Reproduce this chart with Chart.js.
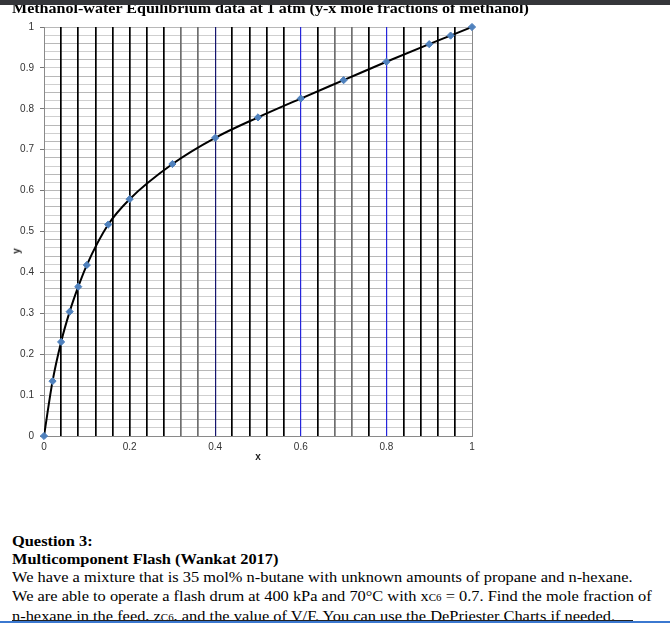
<!DOCTYPE html>
<html>
<head>
<meta charset="utf-8">
<title>Methanol-water VLE</title>
<script src="https://cdn.jsdelivr.net/npm/chart.js"></script>
<style>
  body { margin: 0; background: #fff; width: 670px; height: 623px; overflow: hidden; position: relative;
         font-family: "Liberation Serif", "Times New Roman", serif; color: #000; }
  #topbar { position: absolute; left: 0; top: 0; width: 670px; height: 5px; background: #35363a; z-index: 3; }
  #title { position: absolute; left: 12px; top: 0; font-size: 14.7px; font-weight: bold; white-space: nowrap;
           line-height: 16.3px; transform: scaleX(1.093); transform-origin: left top; z-index: 2; }
  #chartBox { position: absolute; left: 0; top: 0; width: 490px; height: 470px; }
  #ytitle { position: absolute; left: 14px; top: 246px; font: bold 10px "Liberation Sans", Arial, sans-serif;
            color: #222; transform: rotate(-90deg); transform-origin: center; line-height: 10px; }
  #question { position: absolute; left: 12px; top: 531.8px; font-size: 15px; line-height: 18.3px;
              white-space: nowrap; transform: scaleX(1.093); transform-origin: left top; }
  #question sub { font-size: 10px; vertical-align: 0; }
  #underline { position: absolute; left: 12px; top: 620px; width: 621px; height: 1px; background: #222; }
  #bottombar { position: absolute; left: 0; top: 621px; width: 670px; height: 2px; background: #3b78d0; }
</style>
</head>
<body>
<div id="topbar"></div>
<div id="title">Methanol-water Equilibrium data at 1 atm (y-x mole fractions of methanol)</div>
<div id="chartBox"><canvas id="vleChart"></canvas></div>
<div id="ytitle">y</div>
<div id="question">
  <b>Question 3:</b><br>
  <b>Multicomponent Flash (Wankat 2017)</b><br>
  We have a mixture that is 35 mol% n-butane with unknown amounts of propane and n-hexane.<br>
  We are able to operate a flash drum at 400 kPa and 70°C with x<sub>C6</sub> = 0.7. Find the mole fraction of<br>
  n-hexane in the feed, z<sub>C6</sub>, and the value of V/F. You can use the DePriester Charts if needed.
</div>
<div id="underline"></div>
<div id="bottombar"></div>

<script>
// methanol mole fraction in liquid (x) and vapour (y)
const xValues = [0, 0.02, 0.04, 0.06, 0.08, 0.10, 0.15, 0.20, 0.30, 0.40, 0.50, 0.60, 0.70, 0.80, 0.90, 0.95, 1.0];
const yValues = [0, 0.134, 0.230, 0.304, 0.365, 0.418, 0.517, 0.579, 0.665, 0.729, 0.779, 0.825, 0.870, 0.915, 0.958, 0.979, 1.0];

const xTickValues = [0, 0.2, 0.4, 0.6, 0.8, 1];
const xTickLabels = ['0', '0.2', '0.4', '0.6', '0.8', '1'];
const yTickValues = [0, 0.1, 0.2, 0.3, 0.4, 0.5, 0.6, 0.7, 0.8, 0.9, 1];
const yTickLabels = ['0', '0.1', '0.2', '0.3', '0.4', '0.5', '0.6', '0.7', '0.8', '0.9', '1'];

const points = xValues.map((x, i) => ({ x: x, y: yValues[i] }));

function labelFor(values, labels, v) {
    const i = values.findIndex(t => Math.abs(t - v) < 1e-6);
    return i >= 0 ? labels[i] : '';
}

// vertical grid: mostly black, a few look grey or blue on the scan
function xGridColor(ctx) {
    const v = Math.round(ctx.tick.value * 100);
    if (v === 40) return '#15156e';
    if (v === 60 || v === 80) return '#2424dc';
    if (v === 0 || v === 100) return '#8a8a8a';
    if ([32, 36, 68, 72].includes(v)) return '#6e6e6e';
    return '#000';
}
function xGridWidth(ctx) {
    const v = Math.round(ctx.tick.value * 100);
    if (v === 60 || v === 80 || v === 40) return 1.2;
    if (v === 0 || v === 100) return 1;
    return 1.7;
}

const tickFont = { family: '"Liberation Sans", Arial, sans-serif', size: 10 };

const ctx = document.getElementById('vleChart').getContext('2d');
const chart = new Chart(ctx, {
    type: 'scatter',
    data: {
        datasets: [{
            label: 'data',
            data: points,
            showLine: false,
            pointStyle: 'rectRot',
            pointRadius: 3.6,
            backgroundColor: '#4f81bd',
            borderColor: '#4f81bd',
            borderWidth: 1,
            clip: false
        }, {
            label: 'curve',
            data: points,
            showLine: true,
            pointRadius: 0,
            borderColor: '#000',
            borderWidth: 2,
            cubicInterpolationMode: 'monotone'
        }]
    },
    options: {
        responsive: true,
        maintainAspectRatio: false,
        animation: false,
        layout: { padding: { top: 27, right: 18, left: 0, bottom: 0 } },
        plugins: { legend: { display: false }, tooltip: { enabled: false } },
        scales: {
            x: {
                type: 'linear',
                min: 0, max: 1,
                afterFit: s => { s.height = 34; },
                ticks: {
                    stepSize: 0.04,
                    autoSkip: false,
                    maxRotation: 0,
                    padding: 5,
                    color: '#333',
                    font: tickFont,
                    callback: v => labelFor(xTickValues, xTickLabels, v)
                },
                grid: { color: xGridColor, lineWidth: xGridWidth, drawTicks: false, z: -1 },
                border: { color: '#8a8a8a', width: 1 },
                title: { display: true, text: 'x', color: '#222', padding: { top: 0, bottom: 7 },
                         font: { family: '"Liberation Sans", Arial, sans-serif', size: 10, weight: 'bold' } }
            },
            y: {
                type: 'linear',
                min: 0, max: 1,
                afterFit: s => { s.width = 44; },
                ticks: {
                    stepSize: 0.02,
                    autoSkip: false,
                    padding: 6,
                    color: '#333',
                    font: tickFont,
                    callback: v => labelFor(yTickValues, yTickLabels, v)
                },
                grid: {
                    z: -2,
                    color: c => (c.index % 2 ? '#cfcfcf' : '#b8b8b8'),
                    lineWidth: 1,
                    tickLength: 4,
                    tickColor: c => labelFor(yTickValues, yTickLabels, c.tick.value) !== '' ? '#777' : 'rgba(0,0,0,0)'
                },
                border: { color: '#8a8a8a', width: 1 }
            }
        }
    }
});
</script>
</body>
</html>
